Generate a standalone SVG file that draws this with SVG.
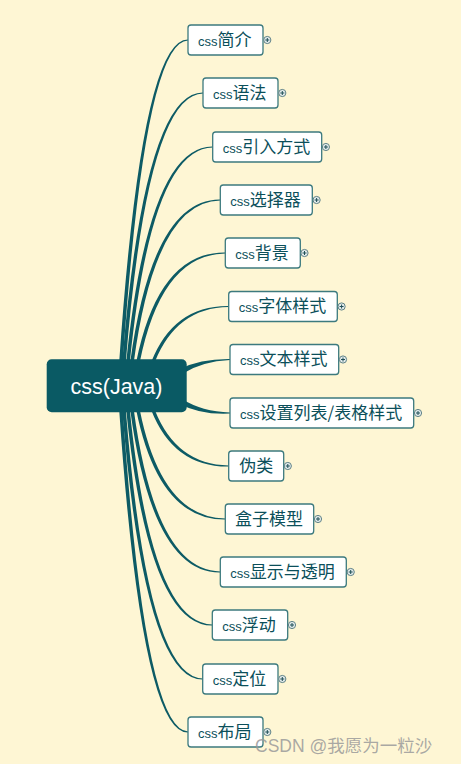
<svg xmlns="http://www.w3.org/2000/svg" width="461" height="764" viewBox="0 0 461 764">
<style>
.bg{fill:#fef6d4}
.conn path{fill:#0d5b65}
.box{fill:#ffffff;stroke:#3c7a7e;stroke-width:1.3}
.lbl{font-family:"Noto Sans CJK SC","Liberation Sans",sans-serif;font-size:17px;fill:#0b4f5a}
.lat{font-family:"Liberation Sans",Arial,sans-serif;font-size:13px}
.plus circle{fill:#e4ecec;stroke:#5f8186;stroke-width:1}
.plus path{stroke:#1f4f57;stroke-width:1;fill:none}
</style>
<defs>
<g id="pl" class="plus"><circle r="3.6"/><path d="M-2,0H2M0,-2V2"/></g>
</defs>
<rect class="bg" x="0" y="0" width="461" height="764"/>
<g id="connectors" class="conn">
<path d="M119.2,362 Q141.5,38.8 188,39.4 L188,40.6 Q144.5,41.2 122.8,362 Z"/>
<path d="M122.2,362 Q144.5,91.8 203,92.4 L203,93.6 Q147.5,94.2 125.8,362 Z"/>
<path d="M126.2,362 Q148.5,145.8 212.7,146.4 L212.7,147.6 Q151.5,148.2 129.8,362 Z"/>
<path d="M130.2,362 Q152.5,198.8 220.3,199.4 L220.3,200.6 Q155.5,201.2 133.8,362 Z"/>
<path d="M136.2,362 Q158.5,251.8 225.3,252.4 L225.3,253.6 Q161.5,254.2 139.8,362 Z"/>
<path d="M151.2,362 Q173.5,305.3 228.7,305.9 L228.7,307.1 Q176.5,307.7 154.8,362 Z"/>
<path d="M180,369 Q200,358.6 230,358.9 L230,360.1 Q202,361.4 182,374 Z"/>
<path d="M182,399 Q202,411.6 230,412.4 L230,413.6 Q200,415 180,404 Z"/>
<path d="M151.2,410 Q173.5,467.2 228.7,466.6 L228.7,465.4 Q176.5,464.8 154.8,410 Z"/>
<path d="M136.2,410 Q158.5,520.2 225.3,519.6 L225.3,518.4 Q161.5,517.8 139.8,410 Z"/>
<path d="M130.2,410 Q152.5,573.2 220.3,572.6 L220.3,571.4 Q155.5,570.8 133.8,410 Z"/>
<path d="M126.2,410 Q148.5,626.2 212.3,625.6 L212.3,624.4 Q151.5,623.8 129.8,410 Z"/>
<path d="M122.2,410 Q144.5,680.2 202.7,679.6 L202.7,678.4 Q147.5,677.8 125.8,410 Z"/>
<path d="M119.2,410 Q141.5,733.2 188,732.6 L188,731.4 Q144.5,730.8 122.8,410 Z"/>
</g>
<g id="root">
<rect x="46.7" y="359.3" width="140" height="53" rx="5" fill="#0a5a64"/>
<text x="116.5" y="394" text-anchor="middle" font-family="'Liberation Sans',Arial,sans-serif" font-size="21.5" fill="#ffffff">css(Java)</text>
</g>
<g id="n1"><rect class="box" x="188" y="25" width="75" height="30" rx="3"/><text class="lbl" x="198" y="45.5"><tspan class="lat">css</tspan>简介</text><use href="#pl" x="267.3" y="40"/></g>
<g id="n2"><rect class="box" x="203" y="78" width="75" height="30" rx="3"/><text class="lbl" x="213" y="98.5"><tspan class="lat">css</tspan>语法</text><use href="#pl" x="282.3" y="93"/></g>
<g id="n3"><rect class="box" x="212.7" y="132" width="109" height="30" rx="3"/><text class="lbl" x="222.7" y="152.5"><tspan class="lat">css</tspan>引入方式</text><use href="#pl" x="325.9" y="147"/></g>
<g id="n4"><rect class="box" x="220.3" y="185" width="92" height="30" rx="3"/><text class="lbl" x="230.3" y="205.5"><tspan class="lat">css</tspan>选择器</text><use href="#pl" x="316.6" y="200"/></g>
<g id="n5"><rect class="box" x="225.3" y="238" width="75" height="30" rx="3"/><text class="lbl" x="235.3" y="258.5"><tspan class="lat">css</tspan>背景</text><use href="#pl" x="304.5" y="253"/></g>
<g id="n6"><rect class="box" x="228.7" y="291.5" width="108.6" height="30" rx="3"/><text class="lbl" x="238.7" y="312"><tspan class="lat">css</tspan>字体样式</text><use href="#pl" x="341.6" y="306.5"/></g>
<g id="n7"><rect class="box" x="230" y="344.5" width="108.7" height="30" rx="3"/><text class="lbl" x="240" y="365"><tspan class="lat">css</tspan>文本样式</text><use href="#pl" x="343" y="359.5"/></g>
<g id="n8"><rect class="box" x="230" y="398" width="183.7" height="30" rx="3"/><text class="lbl" x="240" y="418.5"><tspan class="lat">css</tspan>设置列表/表格样式</text><use href="#pl" x="418" y="413"/></g>
<g id="n9"><rect class="box" x="228.7" y="451" width="55" height="30" rx="3"/><text class="lbl" x="239.3" y="471.5">伪类</text><use href="#pl" x="287.8" y="466"/></g>
<g id="n10"><rect class="box" x="225.3" y="504" width="88.4" height="30" rx="3"/><text class="lbl" x="235" y="524.5">盒子模型</text><use href="#pl" x="318" y="519"/></g>
<g id="n11"><rect class="box" x="220.3" y="557" width="126" height="30" rx="3"/><text class="lbl" x="230.3" y="577.5"><tspan class="lat">css</tspan>显示与透明</text><use href="#pl" x="350.7" y="572"/></g>
<g id="n12"><rect class="box" x="212.3" y="610" width="75.4" height="30" rx="3"/><text class="lbl" x="222.3" y="630.5"><tspan class="lat">css</tspan>浮动</text><use href="#pl" x="292" y="625"/></g>
<g id="n13"><rect class="box" x="202.7" y="664" width="75.3" height="30" rx="3"/><text class="lbl" x="212.7" y="684.5"><tspan class="lat">css</tspan>定位</text><use href="#pl" x="282.3" y="679"/></g>
<g id="n14"><rect class="box" x="188" y="717" width="75" height="30" rx="3"/><text class="lbl" x="198" y="737.5"><tspan class="lat">css</tspan>布局</text><use href="#pl" x="267.3" y="732"/></g>
<text x="255" y="751.5" font-family="'Liberation Sans','Noto Sans CJK SC',sans-serif" font-size="17.5" fill="#9a9a9a" fill-opacity="0.85">CSDN @我愿为一粒沙</text>
</svg>
